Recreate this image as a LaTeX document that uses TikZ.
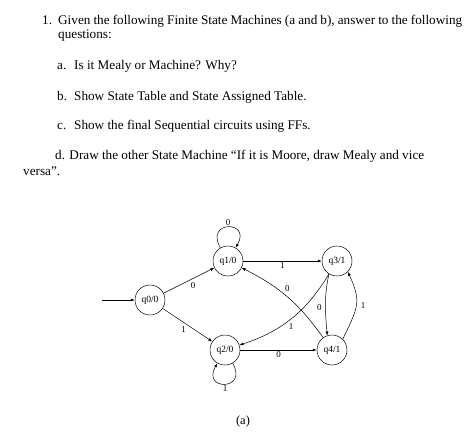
\documentclass[tikz,border=0pt]{standalone}
\usepackage{fontspec}
\setmainfont{Liberation Serif}
\usetikzlibrary{arrows.meta}
\begin{document}
\begin{tikzpicture}[x=1pt,y=1pt,
  st/.style={draw, circle, minimum size=30pt, inner sep=0pt, line width=0.5pt, font=\fontsize{9.5}{11}\selectfont},
  tr/.style={-{Latex[length=4pt,width=3pt]}, line width=0.5pt},
  lbl/.style={font=\fontsize{9}{10}\selectfont, inner sep=1.5pt},
  txt/.style={anchor=base west, inner sep=0pt, font=\fontsize{13.2}{15}\selectfont}]
\useasboundingbox[fill=white] (0,0) rectangle (474,-440);
% question text
\node[txt] (t1n) at (42,-24) {1.};
\node[txt] (t1) at (58,-24) {\makebox[404pt][s]{Given the following Finite State Machines (a and b), answer to the following}};
\node[txt] (t2) at (58,-38) {questions:};
\node[txt] (ta) at (57,-69) {a.};
\node[txt] (ta2) at (74,-69) {Is it Mealy or Machine? Why?};
\node[txt] (tb) at (57,-100) {b.};
\node[txt] (tb2) at (74,-100) {Show State Table and State Assigned Table.};
\node[txt] (tc) at (57,-129) {c.};
\node[txt] (tc2) at (74,-129) {Show the final Sequential circuits using FFs.};
\node[txt] (td) at (55,-159) {\makebox[369pt][s]{d. Draw the other State Machine “If it is Moore, draw Mealy and vice}};
\node[txt] (tv) at (23,-175) {versa”.};
% states
\node[st] (q0) at (150,-300) {q0/0};
\node[st] (q1) at (228,-261) {q1/0};
\node[st] (q2) at (225,-350) {q2/0};
\node[st] (q3) at (337,-261) {q3/1};
\node[st] (q4) at (332,-350) {q4/1};
\coordinate (init) at (102,-300);
% transitions
\draw[tr] (init) -- (q0);
\draw[tr] (q0) -- node[lbl, below right] {0} (q1);
\draw[tr] (q0) -- node[lbl, below left] {1} (q2);
\draw[tr] (q1) -- node[lbl, below] {1} (q3);
\draw[tr] (q2) -- node[lbl, below] {0} (q4);
\draw[tr] (q1.120) .. controls +(120:32) and +(60:32) .. (q1.60) node[lbl, pos=0.5, above] {0};
\draw[tr] (q2.-60) .. controls +(-60:32) and +(-120:32) .. (q2.-120) node[lbl, pos=0.5, below] {1};
\draw[tr] (q4) to[bend right=14] node[lbl, pos=0.55, above right] {0} (q1);
\draw[tr] (q3) to[bend left=20] node[lbl, pos=0.55, below right] {1} (q2);
\draw[tr] (q3.238) to[out=258, in=95] node[lbl, left=2pt, pos=0.55] {0} (q4.108);
\draw[tr] (q4.45) to[out=65, in=-65, looseness=1.3] node[lbl, right=3pt] {1} (q3.-45);
% caption
\node[font=\fontsize{12.5}{14}\selectfont] (cap) at (243,-421) {(a)};
\end{tikzpicture}
\end{document}
